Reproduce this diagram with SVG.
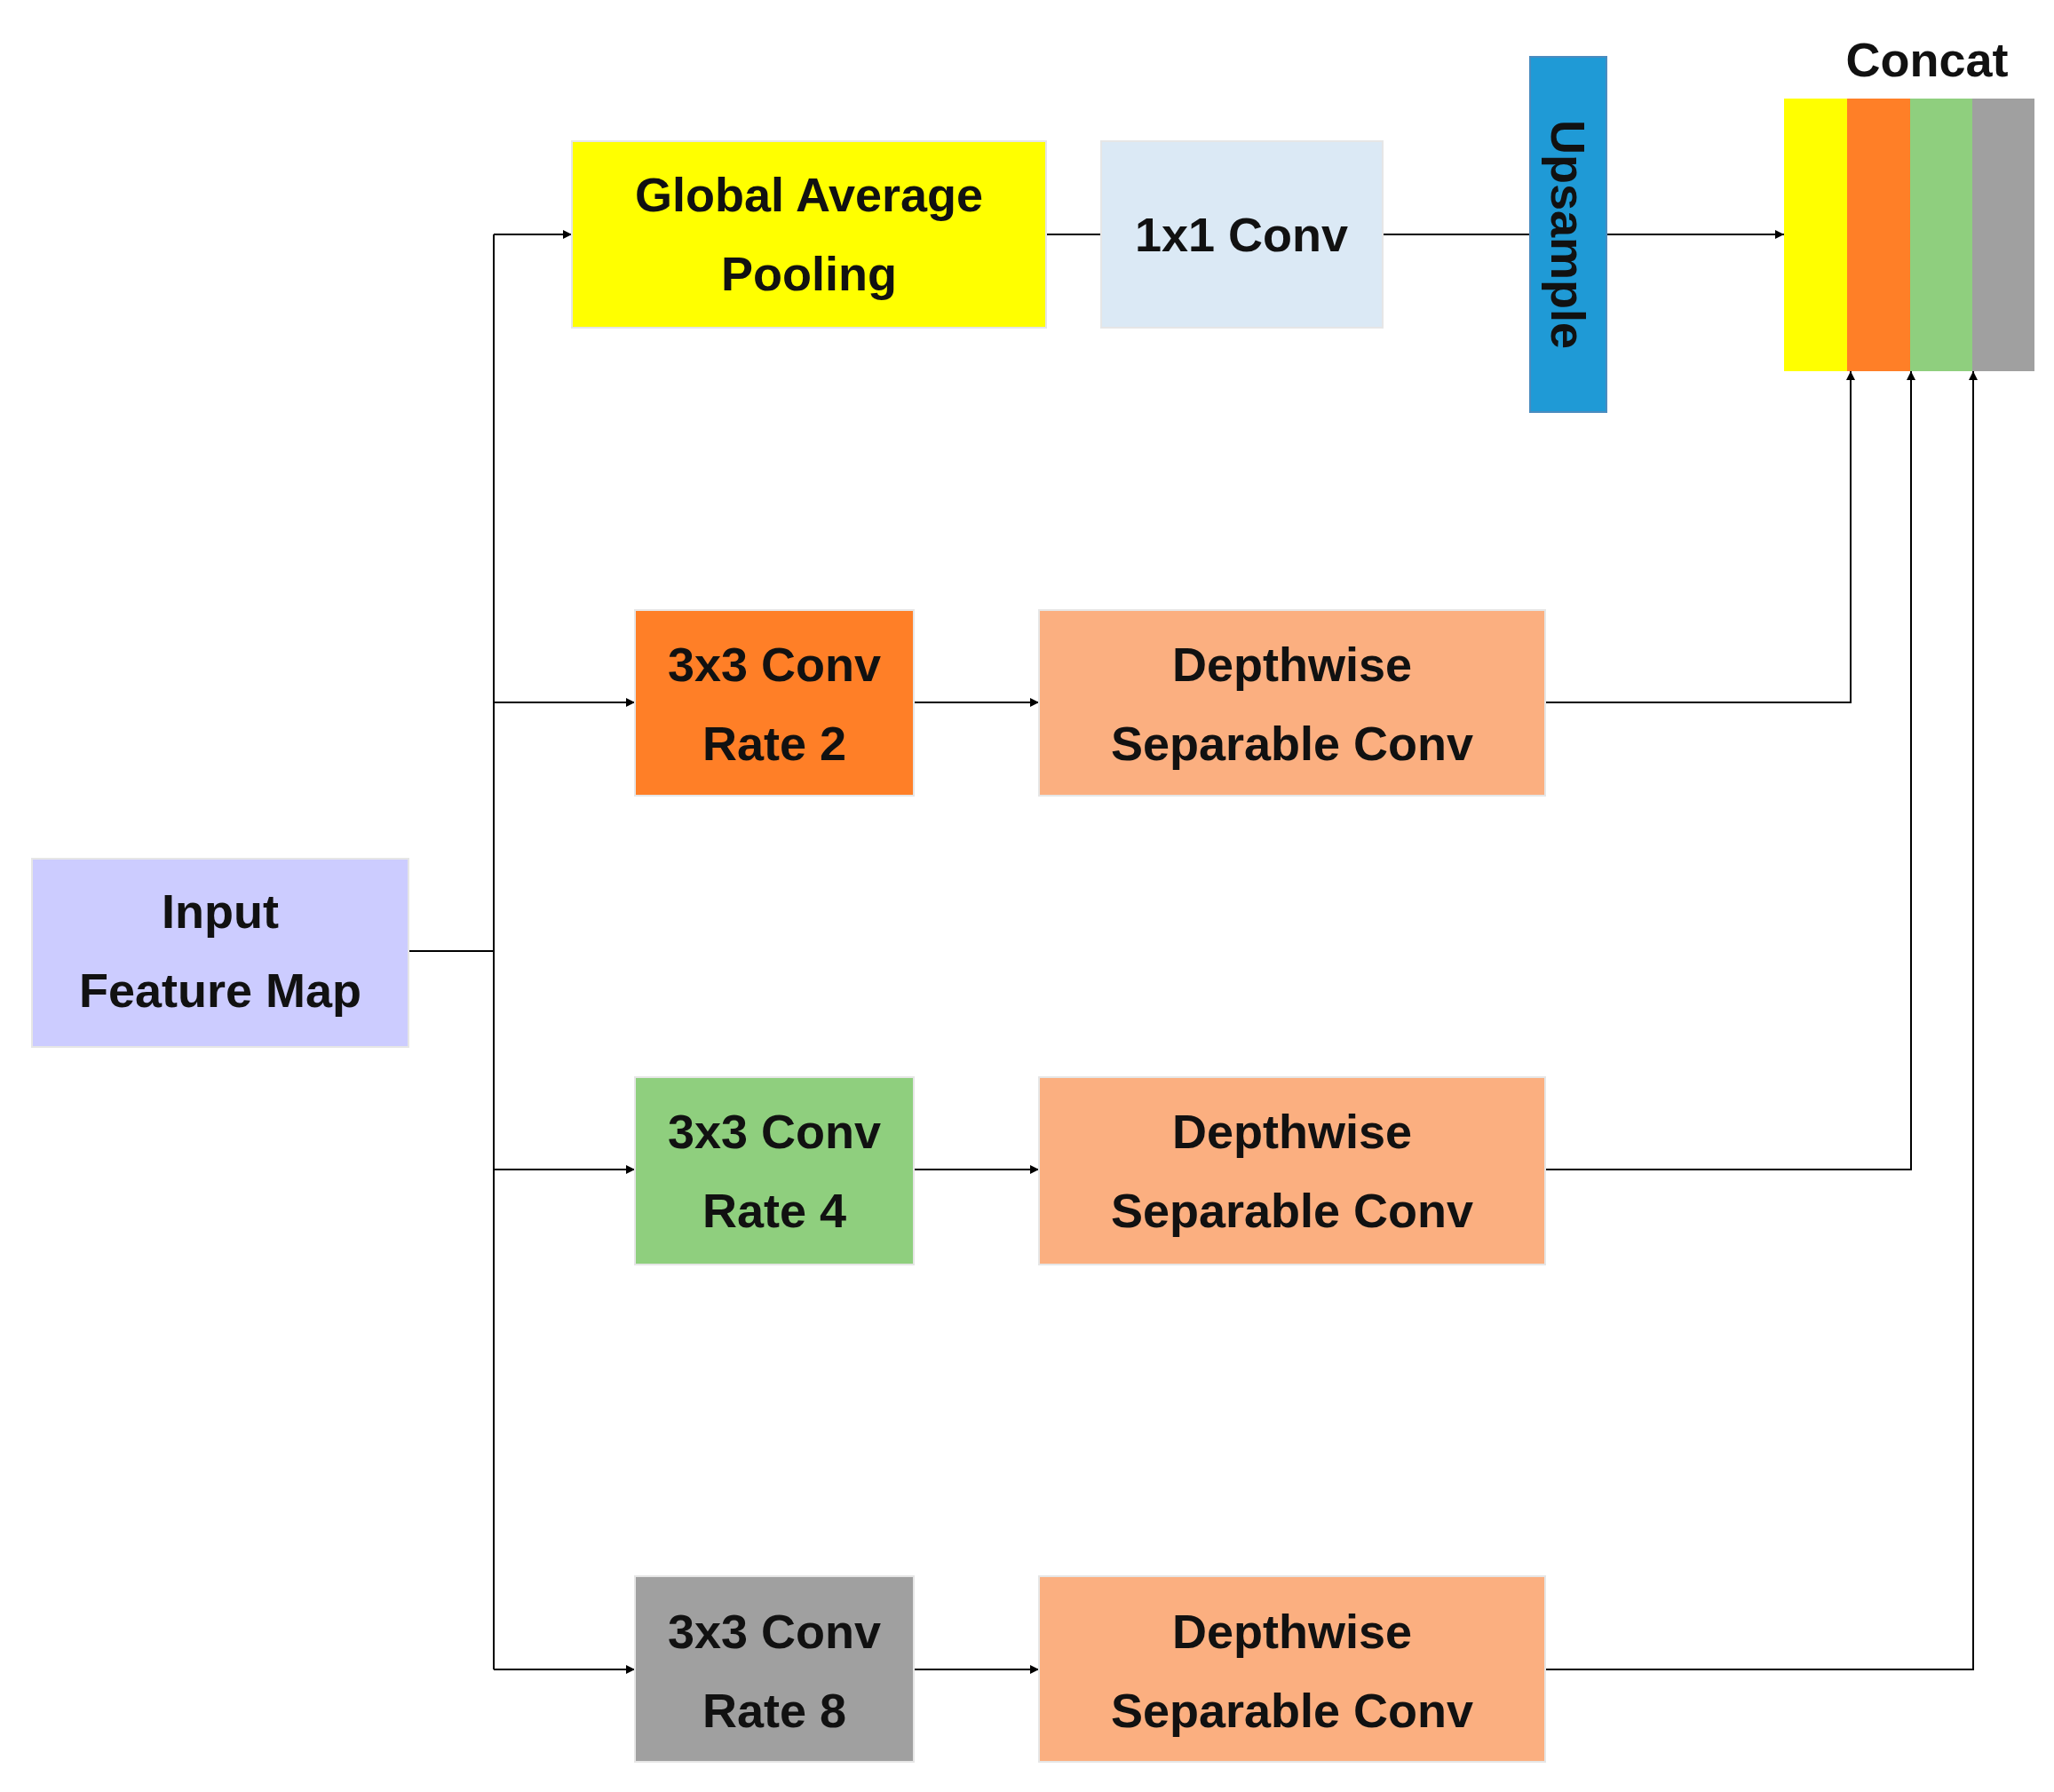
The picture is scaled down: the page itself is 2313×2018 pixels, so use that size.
<svg xmlns="http://www.w3.org/2000/svg" width="2313" height="2018" viewBox="0 0 2313 2018">
<defs>
<marker id="ah" viewBox="0 0 10 10" refX="10" refY="5" markerWidth="5" markerHeight="5" orient="auto"><path d="M0,0 L10,5 L0,10 z" fill="#000"/></marker>
<style>
.t{font-family:"Liberation Sans",Arial,sans-serif;font-weight:bold;font-size:54px;fill:#111;text-anchor:middle}
.c{fill:none;stroke:#000;stroke-width:2}
.b{stroke:#e6e6e6;stroke-width:2}
</style>
</defs>
<rect width="2313" height="2018" fill="#fff"/>
<g id="connectors">
<path class="c" d="M460,1071 H556"/>
<path class="c" d="M556,264 V1880"/>
<path class="c" d="M556,264 H644" marker-end="url(#ah)"/>
<path class="c" d="M556,791 H715" marker-end="url(#ah)"/>
<path class="c" d="M556,1317 H715" marker-end="url(#ah)"/>
<path class="c" d="M556,1880 H715" marker-end="url(#ah)"/>
<path class="c" d="M1178,264 H1240"/>
<path class="c" d="M1557,264 H1723"/>
<path class="c" d="M1809,264 H2009" marker-end="url(#ah)"/>
<path class="c" d="M1029,791 H1170" marker-end="url(#ah)"/>
<path class="c" d="M1029,1317 H1170" marker-end="url(#ah)"/>
<path class="c" d="M1029,1880 H1170" marker-end="url(#ah)"/>
<path class="c" d="M1740,791 H2084 V418" marker-end="url(#ah)"/>
<path class="c" d="M1740,1317 H2152 V418" marker-end="url(#ah)"/>
<path class="c" d="M1740,1880 H2222 V418" marker-end="url(#ah)"/>
</g>
<g id="input"><rect class="b" x="36" y="967" width="424" height="212" fill="#ccccff"/><text class="t" x="248" y="1045">Input</text><text class="t" x="248" y="1134">Feature Map</text></g>
<g id="gap"><rect class="b" x="644" y="159" width="534" height="210" fill="#ffff00"/><text class="t" x="911" y="238">Global Average</text><text class="t" x="911" y="327">Pooling</text></g>
<g id="conv1x1"><rect class="b" x="1240" y="159" width="317" height="210" fill="#dbe9f5"/><text class="t" x="1398" y="283">1x1 Conv</text></g>
<g id="upsample"><rect x="1723" y="64" width="86" height="400" fill="#1f9ad6" stroke="#4a8cc0" stroke-width="2"/><text class="t" transform="translate(1766,264) rotate(90)" dy="19">Upsample</text></g>
<g id="concat"><text class="t" x="2170" y="86">Concat</text>
<rect x="2009" y="111" width="71" height="307" fill="#ffff00"/><rect x="2080" y="111" width="71" height="307" fill="#ff7f27"/><rect x="2151" y="111" width="70" height="307" fill="#8fcf7e"/><rect x="2221" y="111" width="70" height="307" fill="#a0a0a0"/></g>
<g id="r2"><rect class="b" x="715" y="687" width="314" height="209" fill="#ff7f27"/><text class="t" x="872" y="767">3x3 Conv</text><text class="t" x="872" y="856">Rate 2</text></g>
<g id="d2"><rect class="b" x="1170" y="687" width="570" height="209" fill="#fbaf80"/><text class="t" x="1455" y="767">Depthwise</text><text class="t" x="1455" y="856">Separable Conv</text></g>
<g id="r4"><rect class="b" x="715" y="1213" width="314" height="211" fill="#8fcf7e"/><text class="t" x="872" y="1293">3x3 Conv</text><text class="t" x="872" y="1382">Rate 4</text></g>
<g id="d4"><rect class="b" x="1170" y="1213" width="570" height="211" fill="#fbaf80"/><text class="t" x="1455" y="1293">Depthwise</text><text class="t" x="1455" y="1382">Separable Conv</text></g>
<g id="r8"><rect class="b" x="715" y="1775" width="314" height="209" fill="#a0a0a0"/><text class="t" x="872" y="1856">3x3 Conv</text><text class="t" x="872" y="1945">Rate 8</text></g>
<g id="d8"><rect class="b" x="1170" y="1775" width="570" height="209" fill="#fbaf80"/><text class="t" x="1455" y="1856">Depthwise</text><text class="t" x="1455" y="1945">Separable Conv</text></g>
</svg>
